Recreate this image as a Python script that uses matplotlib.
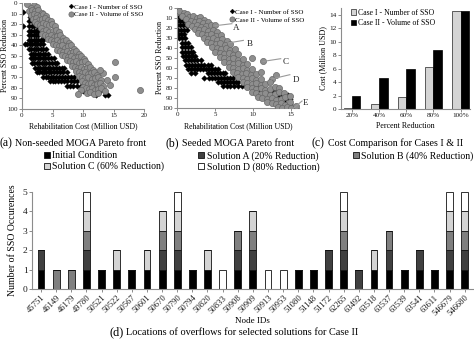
import matplotlib
matplotlib.use('Agg')
import matplotlib.pyplot as plt
from matplotlib.patches import Patch

plt.rcParams['font.family'] = ['Liberation Serif', 'DejaVu Serif']

# ---------------- data: panel (a) non-seeded ----------------
a_case1_levels = [8.7, 13.0, 17.4, 21.7, 26.1, 30.4, 34.8, 39.1, 43.5, 47.8, 52.2,
                  56.5, 60.9, 65.2, 69.6, 73.9, 78.3, 82.6, 87.0]
a_case1_rows = [
    [0.15],
    [1.3, 1.7, 2.1, 2.6],
    [1.2, 1.6, 2.0, 2.4, 2.9],
    [0.15, 1.2, 1.6, 2.0, 2.4, 3.0],
    [1.1, 1.5, 1.9, 2.3, 2.7, 3.0],
    [1.1, 1.5, 1.9, 2.3, 2.7, 3.2],
    [1.1, 1.5, 1.9, 2.3, 2.7, 3.1, 3.5],
    [0.5, 0.9, 1.3, 1.7, 2.1, 2.5, 2.9, 3.4],
    [1.1, 1.5, 1.9, 2.3, 2.7, 3.1, 3.5, 3.9],
    [1.4, 1.8, 2.2, 2.6, 3.0, 3.4, 3.8, 4.2],
    [1.4, 1.8, 2.2, 2.6, 3.0, 3.4, 3.8, 4.2, 4.7, 5.2],
    [1.6, 2.0, 2.4, 2.8, 3.2, 3.6, 4.0, 4.4, 4.9, 5.4, 5.8],
    [2.2, 2.6, 3.0, 3.4, 3.8, 4.2, 4.6, 5.0, 5.5, 6.0, 6.5, 6.9],
    [2.4, 2.8, 3.2, 3.6, 4.0, 4.4, 4.8, 5.3, 5.8, 6.3, 6.8, 7.3],
    [3.5, 3.9, 4.3, 4.7, 5.1, 5.5, 6.0, 6.5, 7.0, 7.5, 8.0, 8.5],
    [4.6, 5.0, 5.4, 5.9, 6.4, 6.9, 7.4, 8.0, 8.5, 9.0],
    [7.3, 7.8, 8.4, 9.0, 9.6, 10.2, 10.7, 11.1],
    [10.0, 10.6, 11.2, 11.8, 12.4, 12.8],
    [12.2, 13.6, 14.1],
]
a_case2_points = [
    (0.8, 1), (1.9, 2), (1.4, 5), (2.4, 4),
    (1.2, 8), (1.7, 7), (2.2, 8), (2.7, 7), (3.2, 9), (1.5, 11), (2.0, 10), (2.5, 11),
    (3.0, 12), (3.5, 10), (4.0, 12),
    (1.8, 15), (2.3, 14), (2.8, 16), (3.3, 15), (3.8, 14), (4.3, 16), (4.8, 17), (2.1, 18),
    (2.4, 20), (2.9, 21), (3.4, 19), (3.9, 20), (4.4, 21), (4.9, 20), (5.4, 22), (3.1, 24),
    (3.5, 26), (4.0, 25), (4.5, 27), (5.0, 26), (5.5, 25), (6.0, 27), (3.3, 29),
    (3.8, 30), (4.3, 31), (4.8, 30), (5.3, 32), (5.8, 31), (6.3, 30), (6.8, 33), (4.2, 34),
    (4.7, 35), (5.2, 36), (5.7, 35), (6.2, 37), (6.7, 36), (7.2, 35), (7.7, 38), (5.0, 39),
    (5.5, 40), (6.0, 41), (6.5, 40), (7.0, 42), (7.5, 41), (8.0, 40), (8.5, 43), (5.8, 44),
    (6.3, 45), (6.8, 46), (7.3, 45), (7.8, 47), (8.3, 46), (8.8, 45), (9.3, 48), (6.6, 49),
    (7.1, 50), (7.6, 51), (8.1, 50), (8.6, 52), (9.1, 51), (9.6, 50), (10.1, 53), (7.4, 54),
    (7.9, 55), (8.4, 56), (8.9, 55), (9.4, 57), (9.9, 56), (10.4, 55), (10.9, 58), (8.2, 59),
    (8.7, 60), (9.2, 61), (9.7, 60), (10.2, 62), (10.7, 61), (11.2, 60), (11.7, 63), (8.8, 64),
    (9.3, 65), (9.8, 66), (10.3, 65), (10.8, 67), (11.3, 66), (11.8, 65), (12.3, 68), (9.4, 69),
    (9.9, 70), (10.4, 71), (10.9, 70), (11.4, 72), (11.9, 71), (12.4, 70), (12.9, 73), (9.8, 74),
    (10.3, 75), (10.8, 76), (11.3, 75), (11.8, 77), (12.3, 76), (12.8, 75), (13.3, 78), (10.0, 79),
    (10.5, 80), (11.0, 81), (11.5, 80), (12.0, 82), (12.5, 81), (13.0, 80), (13.6, 83), (9.6, 82),
    (10.6, 85), (11.2, 84), (11.8, 86), (12.4, 85), (9.2, 86),
    (15.2, 56), (15.2, 70), (14.5, 77), (13.2, 66), (12.8, 63), (19.3, 82), (14.0, 73),
]

# ---------------- data: panel (b) seeded ----------------
b_case1_levels = [4.3, 8.7, 13.0, 17.4, 21.7, 26.1, 30.4, 34.8, 39.1, 43.5, 47.8, 52.2,
                  56.5, 60.9, 65.2, 69.6, 73.9, 78.3, 82.6, 87.0, 91.3, 95.7, 100.0]
b_case1_rows = [
    [0.05],
    [0.2],
    [0.0, 0.4, 0.8, 1.2, 1.6],
    [0.0, 0.4, 0.8, 1.2, 1.5],
    [0.1, 0.5, 0.9, 1.3, 3.2],
    [0.1, 0.5, 0.9],
    [0.3, 0.7, 1.1],
    [0.6, 1.0, 1.4],
    [0.6, 1.0, 1.4, 1.8, 4.9],
    [0.6, 1.0, 1.4, 1.8, 2.1],
    [0.8, 1.2, 1.6, 2.0, 2.4],
    [1.0, 1.4, 1.8, 2.2, 2.6, 3.2],
    [1.2, 1.6, 2.0, 2.4, 2.8, 3.2, 3.6, 4.0, 4.5],
    [1.4, 1.8, 2.2, 2.6, 3.0, 3.4, 3.8, 4.2, 4.6, 5.0, 5.4],
    [1.9, 2.3, 4.0, 4.4, 4.8, 5.2, 5.6, 6.0, 6.3],
    [3.6, 4.2, 4.6, 5.0, 5.4, 5.8, 6.2, 6.6, 7.0, 7.4],
    [5.4, 5.8, 6.2, 6.6, 7.0, 7.4, 7.8, 8.0],
    [6.0, 6.5, 7.0, 7.5, 8.0, 8.5, 9.0, 9.5, 10.0, 10.5, 11.1],
    [10.2, 10.8, 11.4, 12.0, 12.6, 12.9],
    [12.4, 12.9, 13.4, 14.0, 14.6],
    [13.0, 13.6, 14.2, 14.8],
    [14.2, 14.8],
    [14.4, 14.8, 15.2, 15.5],
]
b_case2_points = [
    (0.1, 0), (0.3, 3), (0.9, 5), (1.3, 6), (0.6, 8), (1.6, 9), (2.1, 8), (2.6, 10), (1.2, 11),
    (3.0, 9), (3.5, 12), (1.8, 13), (2.4, 14), (2.9, 13), (3.4, 15), (4.0, 14), (1.4, 16),
    (2.0, 18), (2.6, 17), (3.2, 19), (3.8, 18), (4.4, 17), (5.0, 17), (2.3, 21), (2.9, 22),
    (3.5, 21), (4.1, 23), (4.7, 22), (5.3, 24), (2.7, 25), (3.3, 26), (3.9, 27), (4.5, 26),
    (5.1, 28), (5.8, 27), (3.5, 30), (4.1, 31), (4.7, 30), (5.3, 32), (5.9, 31), (6.5, 33),
    (3.9, 34), (4.5, 35), (5.1, 36), (5.7, 35), (6.3, 37), (6.9, 36), (4.6, 39), (5.2, 40),
    (5.8, 41), (6.4, 40), (7.0, 42), (7.6, 41), (5.0, 44), (5.6, 45), (6.2, 46), (6.8, 45),
    (7.4, 47), (8.0, 46), (5.6, 49), (6.2, 50), (6.8, 51), (7.4, 50), (8.0, 52), (8.6, 51),
    (9.8, 50), (6.2, 54), (6.8, 55), (7.4, 56), (8.0, 55), (8.6, 57), (9.2, 56), (11.3, 53),
    (6.8, 59), (7.4, 60), (8.0, 61), (8.6, 60), (9.2, 62), (9.8, 61), (7.3, 64), (7.9, 65),
    (8.5, 66), (9.1, 65), (9.7, 67), (10.3, 66), (11.0, 64), (8.0, 69), (8.6, 70), (9.2, 71),
    (9.8, 70), (10.4, 72), (11.0, 71), (12.4, 71), (13.0, 67), (8.6, 74), (9.2, 75), (9.8, 76),
    (10.4, 75), (11.0, 77), (11.6, 76), (12.2, 74), (9.2, 79), (9.8, 80), (10.4, 81), (11.0, 80),
    (11.6, 82), (12.2, 81), (12.8, 79), (13.4, 80), (9.8, 84), (10.4, 85), (11.0, 86), (11.6, 85),
    (12.2, 87), (12.8, 86), (13.4, 84), (14.0, 85), (10.6, 89), (11.2, 90), (11.8, 91), (12.4, 90),
    (13.0, 92), (13.6, 91), (14.2, 89), (14.8, 88), (11.8, 94), (12.4, 95), (13.0, 96), (13.6, 95),
    (14.2, 97), (14.8, 94), (13.2, 99), (13.8, 100), (14.4, 99), (15.0, 100), (15.6, 98),
]
b_labels = ['A', 'B', 'C', 'D', 'E']
b_label_pos = [(7.8, 20), (9.6, 36), (14.2, 54), (15.6, 72), (16.9, 95)]
b_line_start = [(5.0, 17.7), (6.7, 35), (11.3, 53.4), (12.4, 71), (15.3, 100)]
b_line_end = [(7.2, 15.7), (8.7, 32.4), (13.6, 50.7), (14.8, 66.7), (16.4, 93)]

# ---------------- data: panel (c) ----------------
reduction_labels = ['20%', '40%', '60%', '80%', '100%']
cost_case1 = [0.1, 0.7, 1.8, 6.2, 14.6]
cost_case2 = [2.0, 4.6, 6.0, 8.8, 14.6]

# ---------------- data: panel (d) ----------------
node_ids = ['45751', '46149', '46179', '49780', '50521', '50522', '50567', '50601', '50670',
            '50790', '50794', '50820', '50833', '50908', '50909', '50913', '50953', '51080',
            '51148', '51172', '62265', '63492', '63518', '63537', '63539', '63541', '63611',
            '546679', '546680']
initial = [1, 0, 0, 1, 1, 1, 1, 1, 1, 1, 1, 1, 0, 1, 1, 0, 0, 1, 1, 1, 1, 0, 1, 1, 1, 1, 1, 1, 1]
sol_a   = [1, 0, 0, 1, 0, 0, 0, 0, 1, 1, 0, 0, 0, 1, 1, 0, 0, 0, 0, 1, 1, 1, 0, 1, 0, 1, 0, 1, 1]
sol_b   = [0, 1, 1, 1, 0, 0, 0, 0, 1, 1, 0, 0, 0, 1, 1, 0, 0, 0, 0, 0, 1, 0, 0, 1, 0, 0, 0, 1, 1]
sol_c   = [0, 0, 0, 1, 0, 1, 0, 1, 1, 1, 0, 1, 0, 0, 1, 0, 0, 0, 0, 0, 1, 0, 1, 0, 0, 0, 0, 1, 1]
sol_d   = [0, 0, 0, 1, 0, 0, 0, 0, 0, 1, 0, 0, 1, 0, 0, 1, 1, 0, 0, 0, 1, 0, 0, 0, 0, 0, 0, 1, 1]
series_names = ['Initial Condition', 'Solution A (20% Reduction)', 'Solution B (40% Reduction)',
                'Solution C (60% Reduction)', 'Solution D (80% Reduction)']
series_colors = ['#000000', '#404040', '#7f7f7f', '#d4d4d4', '#ffffff']

# ---------------- figure ----------------
W, H = 474, 345
fig = plt.figure(figsize=(W / 100, H / 100), dpi=100)

def ax_px(l, t, r, b):
    return fig.add_axes([l / W, 1 - b / H, (r - l) / W, (b - t) / H])

AX_COLOR = '#8c8c8c'
BLACK_C = '#000000'
GRAY_FC = '#8e8e8e'
GRAY_EC = '#686868'

def style_axes(ax, fs):
    for s in ['top', 'right']:
        ax.spines[s].set_visible(False)
    for s in ['left', 'bottom']:
        ax.spines[s].set_color(AX_COLOR)
        ax.spines[s].set_linewidth(0.8)
    ax.tick_params(axis='both', colors=AX_COLOR, labelcolor='#1a1a1a', labelsize=fs,
                   length=2.0, width=0.7, pad=1.2, direction='out')

def flatten_rows(levels, rows):
    xs, ys = [], []
    for lv, row in zip(levels, rows):
        for x in row:
            xs.append(x)
            ys.append(lv)
    return xs, ys

def scatter_panel(ax, levels, rows, pts, xmax, xticks, leg_anchor):
    x1, y1 = flatten_rows(levels, rows)
    ax.plot(x1, y1, linestyle='none', marker='D', ms=2.8, color=BLACK_C, mec=BLACK_C,
            mew=0.3, label='Case I - Number of SSO', zorder=2)
    ax.plot([p[0] for p in pts], [p[1] for p in pts], linestyle='none', marker='o', ms=4.4,
            color=GRAY_FC, mec=GRAY_EC, mew=0.5, label='Case II - Volume of SSO', zorder=3)
    ax.set_xlim(0, xmax)
    ax.set_ylim(100, 0)
    ax.set_xticks(xticks)
    ax.set_yticks(range(0, 101, 10))
    style_axes(ax, 5)
    ax.set_xlabel('Rehabilitation Cost (Million USD)', fontsize=5.6)
    ax.set_ylabel('Percent SSO Reduction', fontsize=5.6)
    ax.legend(loc='upper right', fontsize=5, frameon=False, handlelength=0.6,
              handletextpad=0.2, borderaxespad=0.0, borderpad=0.1, labelspacing=0.3,
              markerscale=0.85, bbox_to_anchor=leg_anchor)

# Panel (a)
axa = ax_px(22, 3, 144, 109)
scatter_panel(axa, a_case1_levels, a_case1_rows, a_case2_points, 20, [0, 5, 10, 15, 20],
              (1.0, 1.0))
axa.yaxis.set_label_coords(-0.105, 0.5)
axa.xaxis.set_label_coords(0.5, -0.125)

# Panel (b)
axb = ax_px(177, 8, 299, 108)
scatter_panel(axb, b_case1_levels, b_case1_rows, b_case2_points, 16, [0, 5, 10, 15],
              (1.05, 1.0))
axb.yaxis.set_label_coords(-0.105, 0.5)
axb.xaxis.set_label_coords(0.5, -0.14)
for lab, lp, s, e in zip(b_labels, b_label_pos, b_line_start, b_line_end):
    axb.plot([s[0], e[0]], [s[1], e[1]], color='#9a9a9a', lw=0.8, clip_on=False, zorder=4)
    axb.text(lp[0], lp[1], lab, fontsize=6.5, ha='center', va='center', color='#222222',
             clip_on=False)

# Panel (c)
axc = ax_px(341, 8, 470, 109)
xc = list(range(len(reduction_labels)))
bw = 0.3
axc.bar([x - bw / 2 for x in xc], cost_case1, width=bw, color='#d4d4d4', edgecolor='#222222',
        linewidth=0.5, label='Case I - Number of SSO')
axc.bar([x + bw / 2 for x in xc], cost_case2, width=bw, color='#000000', edgecolor='#000000',
        linewidth=0.5, label='Case II - Volume of SSO')
axc.set_xlim(-0.42, 4.35)
axc.set_ylim(0, 15)
axc.set_yticks(range(0, 15, 2))
axc.set_xticks(xc)
axc.set_xticklabels(reduction_labels)
style_axes(axc, 5.2)
axc.set_xlabel('Percent Reduction', fontsize=5.8)
axc.set_ylabel('Cost (Million USD)', fontsize=5.8)
axc.yaxis.set_label_coords(-0.11, 0.5)
axc.xaxis.set_label_coords(0.5, -0.13)
axc.legend(loc='upper left', fontsize=5.6, frameon=False, handlelength=0.7, handleheight=0.7,
           handletextpad=0.2, borderaxespad=0.0, borderpad=0.1, labelspacing=0.3,
           bbox_to_anchor=(0.07, 1.0))

# Captions (a)-(c)
caps = [(0, 15, '(a)', 'Non-seeded MOGA Pareto front'),
        (166, 182, '(b)', 'Seeded MOGA Pareto front'),
        (312, 328, '(c)', 'Cost Comparison for Cases I & II')]
for xl, xt, tag, txt in caps:
    fig.text(xl / W, 1 - 146 / H, tag, fontsize=8.5, ha='left', va='baseline')
    fig.text(xt / W, 1 - 146 / H, txt, fontsize=7.2, ha='left', va='baseline')

# Panel (d)
axd = ax_px(32, 192, 473, 289)
xd = list(range(len(node_ids)))
bottoms = [0] * len(node_ids)
handles = []
for name, vals, col in zip(series_names, [initial, sol_a, sol_b, sol_c, sol_d], series_colors):
    axd.bar(xd, vals, bottom=bottoms, width=0.45, color=col, edgecolor='#111111', linewidth=0.6)
    bottoms = [b + v for b, v in zip(bottoms, vals)]
    handles.append(Patch(facecolor=col, edgecolor='#111111', linewidth=0.6, label=name))
axd.set_xlim(-0.6, 28.55)
axd.set_ylim(0, 5)
axd.set_yticks(range(0, 6))
axd.set_xticks(xd)
axd.set_xticklabels(node_ids, rotation=45, ha='right', rotation_mode='anchor')
style_axes(axd, 6.8)
axd.tick_params(axis='x', labelsize=6.2, pad=1.5)
axd.set_xlabel('Node IDs', fontsize=6.5)
axd.set_ylabel('Number of SSO Occurences', fontsize=7)
axd.xaxis.set_label_coords(0.5, -0.29)
axd.yaxis.set_label_coords(-0.034, 0.5)

order = [0, 3, 1, 4, 2]
fig.legend([handles[i] for i in order], [series_names[i] for i in order], ncol=3,
           loc='upper left', bbox_to_anchor=(44 / W, 1 - 151 / H), fontsize=7, frameon=False,
           handlelength=0.6, handleheight=0.6, handletextpad=0.25, columnspacing=3.5,
           labelspacing=0.15, borderaxespad=0, borderpad=0)

fig.text(109 / W, 1 - 335 / H, '(d)', fontsize=9, ha='left', va='baseline')
fig.text(126 / W, 1 - 335 / H, 'Locations of overflows for selected solutions for Case II',
         fontsize=7.4, ha='left', va='baseline')

fig.savefig('out.png', dpi=100)
